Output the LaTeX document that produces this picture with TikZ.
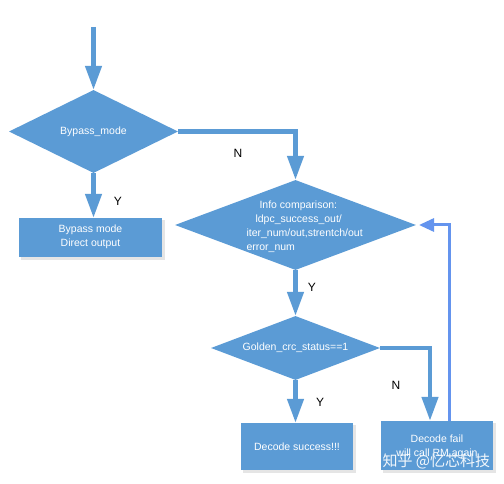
\documentclass[tikz,border=0pt]{standalone}
\usepackage{fontspec}
\setmainfont{Liberation Sans}
\newfontfamily\cjk{Noto Sans CJK SC}
\usetikzlibrary{shapes.geometric,arrows.meta}
\definecolor{fc}{RGB}{91,155,213}
\definecolor{rc}{RGB}{100,148,238}
\tikzset{
  dia/.style={shape=diamond, fill=fc, inner sep=0pt, draw=none},
  boxn/.style={shape=rectangle, fill=fc, inner sep=0pt, draw=none},
  wtxt/.style={text=white, font=\fontsize{10.5}{14}\selectfont, align=center},
  lbl/.style={text=black, font=\fontsize{12}{12}\selectfont},
  conn/.style={draw=fc, line width=4.5pt, -{Triangle[width=16pt,length=24pt]}},
  back/.style={draw=rc, line width=3pt, -{Triangle[width=13pt,length=15pt]}},
  shadowbox/.style={fill=black!10, draw=none}
}
\begin{document}
\begin{tikzpicture}[x=1pt,y=-1pt]
\useasboundingbox (0,0) rectangle (504,484);
\fill[white] (0,0) rectangle (504,484);
% shadows
\fill[shadowbox] (21,220) rectangle (165,260);
\fill[shadowbox] (243,425) rectangle (356,473);
\fill[shadowbox] (383,423) rectangle (496,473);
% shapes
\node[dia, minimum width=169pt, minimum height=83pt] (d1) at (93.5,131.5) {};
\node[wtxt] (t1) at (d1.center) {Bypass\_mode};
\node[boxn, minimum width=143pt, minimum height=39pt] (b1) at (90.5,237.5) {};
\node[wtxt] (tb1) at ([yshift=1pt]b1.center) {Bypass mode\\Direct output};
\node[dia, minimum width=241pt, minimum height=90pt] (d2) at (295.5,225) {};
\node[text=white, font=\fontsize{10.5}{14}\selectfont, align=left, anchor=north west] (t2) at (243,197)
  {\hspace{13pt}Info comparison:\\\hspace{9pt}ldpc\_success\_out/\\iter\_num/out,strentch/out\\error\_num};
\node[dia, minimum width=169pt, minimum height=64pt] (d3) at (295.5,348) {};
\node[wtxt] (t3) at (d3.center) {Golden\_crc\_status==1};
\node[boxn, minimum width=112pt, minimum height=47pt] (b2) at (297,446.5) {};
\node[wtxt] (tb2) at (b2.center) {Decode success!!!};
\node[boxn, minimum width=112pt, minimum height=49pt] (b3) at (437,445.5) {};
\node[wtxt] (tb3) at ([yshift=-1pt]b3.center) {Decode fail\\will call RM again};
% connectors
\coordinate (start) at (93.5,27);
\coordinate (c1) at (295.5,131.5);
\coordinate (c3) at (430,348);
\coordinate (r1) at (449,421);
\coordinate (r2) at (449,225);
\coordinate (rend) at (419,225);
\draw[conn] (start) -- (d1.north);
\draw[conn] (d1.east) -- (c1) -- (d2.north);
\draw[conn] (d1.south) -- (d1.south |- b1.north);
\draw[conn] (d2.south) -- (d3.north);
\draw[conn] (d3.south) -- (d3.south |- b2.north);
\draw[conn] (d3.east) -- (c3) -- (c3 |- b3.north);
\draw[back] (r1) -- (r2) -- (rend);
% labels
\node[lbl] (n1) at (238,153) {N};
\node[lbl] (y1) at (118,201) {Y};
\node[lbl] (y2) at (312,287) {Y};
\node[lbl] (y3) at (320,402) {Y};
\node[lbl] (n2) at (396,385) {N};
% watermark
\node[text=white, opacity=0.92, font=\cjk\fontsize{15}{15}\selectfont, anchor=west] (wm) at (379,461) {知乎 @忆芯科技};
\end{tikzpicture}
\end{document}
